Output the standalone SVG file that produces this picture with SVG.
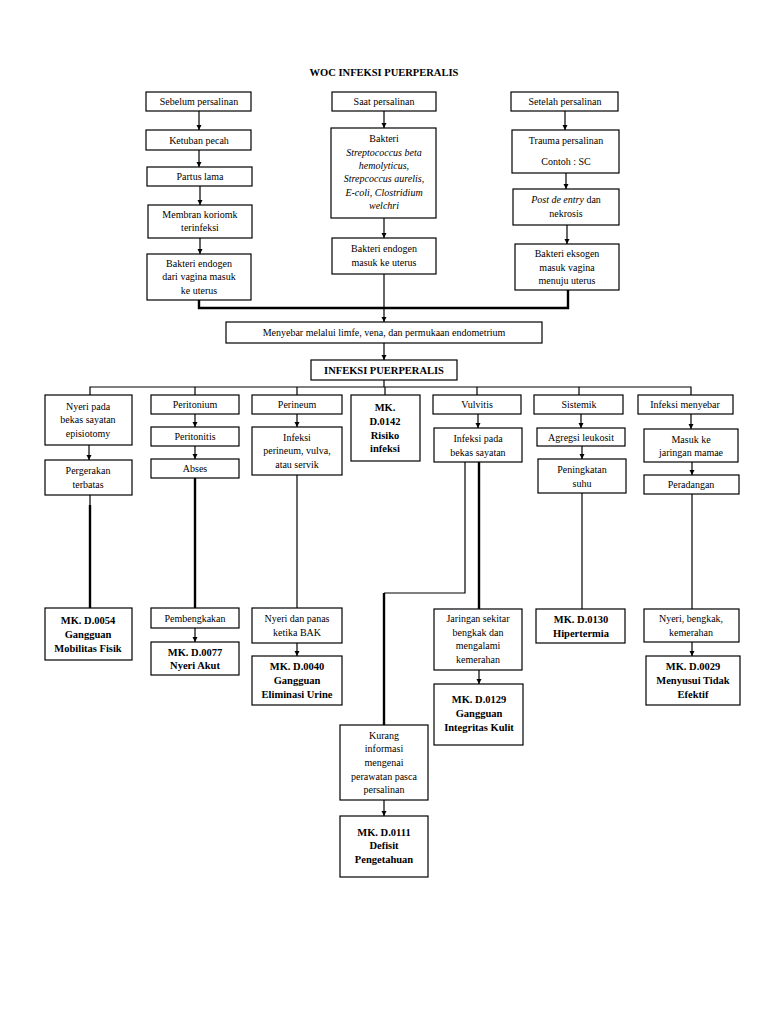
<svg xmlns="http://www.w3.org/2000/svg" width="768" height="1024" viewBox="0 0 768 1024">
<style>
rect{fill:#fff;stroke:#000;stroke-width:1.2}
text{font-family:"Liberation Serif",serif;font-size:10px;text-anchor:middle;fill:#000}
.b{font-weight:bold;font-size:10.5px}
.i{font-style:italic}
.c line,.c path{stroke:#000;stroke-width:1.2;fill:none}
.c .t{stroke-width:2.4}
.c .a{marker-end:url(#ar)}
</style>
<defs><marker id="ar" markerWidth="6" markerHeight="6" refX="5" refY="3" orient="auto" markerUnits="userSpaceOnUse"><path d="M0,0.5 L5,3 L0,5.5z" fill="#000"/></marker></defs>
<text x="384" y="76" class="b">WOC INFEKSI PUERPERALIS</text>
<g class="c">
<line class="a" x1="199" y1="111" x2="199" y2="130"/>
<line class="a" x1="199" y1="150" x2="199" y2="167"/>
<line class="a" x1="200" y1="186" x2="200" y2="205"/>
<line class="a" x1="200" y1="238" x2="200" y2="254"/>
<line class="a" x1="384" y1="111" x2="384" y2="128"/>
<line class="a" x1="384" y1="218" x2="384" y2="238"/>
<line class="a" x1="565" y1="111" x2="565" y2="130"/>
<line class="a" x1="566" y1="173" x2="566" y2="189"/>
<line class="a" x1="567" y1="225" x2="567" y2="244"/>
<path class="t" d="M199,300 V308 H568 V290"/>
<line class="a" x1="384" y1="274" x2="384" y2="322"/>
<line class="a" x1="384" y1="343" x2="384" y2="360"/>
<path d="M384,380 V387"/>
<path d="M90,395 V387 H691 V395"/>
<line x1="195" y1="387" x2="195" y2="395"/>
<line x1="297" y1="387" x2="297" y2="395"/>
<line x1="385" y1="387" x2="385" y2="395"/>
<line x1="477" y1="387" x2="477" y2="395"/>
<line x1="579" y1="387" x2="579" y2="395"/>
<line class="a" x1="89" y1="445" x2="89" y2="460"/>
<line class="t" x1="90" y1="505" x2="90" y2="608"/>
<line x1="90" y1="495" x2="90" y2="505"/>
<line class="a" x1="195" y1="414" x2="195" y2="427"/>
<line class="a" x1="195" y1="446" x2="195" y2="459"/>
<line class="t" x1="195" y1="478" x2="195" y2="608"/>
<line class="a" x1="195" y1="628" x2="195" y2="642"/>
<line class="a" x1="297" y1="414" x2="297" y2="427"/>
<line x1="297" y1="475" x2="297" y2="608"/>
<line class="a" x1="297" y1="643" x2="297" y2="656"/>
<line class="a" x1="478" y1="414" x2="478" y2="428"/>
<path d="M465,462 V593 H384"/>
<line class="t" x1="384" y1="593" x2="384" y2="725"/>
<line class="a" x1="384" y1="800" x2="384" y2="816"/>
<line class="t" x1="479" y1="462" x2="479" y2="609"/>
<line class="a" x1="479" y1="670" x2="479" y2="684"/>
<line class="a" x1="581" y1="414" x2="581" y2="428"/>
<line class="a" x1="582" y1="446" x2="582" y2="459"/>
<line x1="582" y1="493" x2="582" y2="609"/>
<line class="a" x1="691" y1="414" x2="691" y2="429"/>
<line class="a" x1="692" y1="462" x2="692" y2="475"/>
<line x1="692" y1="494" x2="692" y2="609"/>
<line class="a" x1="692" y1="642" x2="692" y2="656"/>
</g>
<g id="sebelum"><rect x="146" y="92" width="105" height="19"/><text x="199" y="105">Sebelum persalinan</text></g>
<g id="ketuban"><rect x="146" y="130" width="105" height="20"/><text x="199" y="144">Ketuban pecah</text></g>
<g id="partus"><rect x="147" y="167" width="105" height="19"/><text x="200" y="180">Partus lama</text></g>
<g id="membran"><rect x="148" y="205" width="104" height="33"/><text x="200" y="218">Membran koriomk</text><text x="200" y="231">terinfeksi</text></g>
<g id="endogen1"><rect x="147" y="254" width="104" height="46"/><text x="199" y="267">Bakteri endogen</text><text x="199" y="280">dari vagina masuk</text><text x="199" y="294">ke uterus</text></g>
<g id="saat"><rect x="332" y="92" width="104" height="19"/><text x="384" y="105">Saat persalinan</text></g>
<g id="bakteri"><rect x="331" y="128" width="105" height="90"/><text x="384" y="142">Bakteri</text><text x="384" y="156" class="i">Streptococcus beta</text><text x="384" y="169" class="i">hemolyticus,</text><text x="384" y="182" class="i">Strepcoccus aurelis,</text><text x="384" y="196" class="i">E-coli, Clostridium</text><text x="384" y="209" class="i">welchri</text></g>
<g id="endogen2"><rect x="332" y="238" width="104" height="36"/><text x="384" y="252">Bakteri endogen</text><text x="384" y="266">masuk ke uterus</text></g>
<g id="setelah"><rect x="511" y="92" width="107" height="19"/><text x="565" y="105">Setelah persalinan</text></g>
<g id="trauma"><rect x="512" y="130" width="107" height="43"/><text x="566" y="144">Trauma persalinan</text><text x="566" y="165">Contoh : SC</text></g>
<g id="post"><rect x="513" y="189" width="106" height="36"/><text x="566" y="203"><tspan class="i">Post de entry</tspan> dan</text><text x="566" y="217">nekrosis</text></g>
<g id="eksogen"><rect x="515" y="244" width="104" height="46"/><text x="567" y="257">Bakteri eksogen</text><text x="567" y="271">masuk vagina</text><text x="567" y="284">menuju uterus</text></g>
<g id="menyebar"><rect x="226" y="322" width="316" height="21"/><text x="384" y="336">Menyebar melalui limfe, vena, dan permukaan endometrium</text></g>
<g id="infeksi"><rect x="311" y="360" width="146" height="20"/><text x="384" y="374" class="b">INFEKSI PUERPERALIS</text></g>
<g id="nyeri1"><rect x="45" y="395" width="87" height="50"/><text x="88" y="410">Nyeri pada</text><text x="88" y="423">bekas sayatan</text><text x="88" y="437">episiotomy</text></g>
<g id="pergerakan"><rect x="45" y="460" width="87" height="35"/><text x="88" y="474">Pergerakan</text><text x="88" y="488">terbatas</text></g>
<g id="d0054"><rect x="45" y="608" width="87" height="52"/><text x="88" y="624" class="b">MK. D.0054</text><text x="88" y="638" class="b">Gangguan</text><text x="88" y="652" class="b">Mobilitas Fisik</text></g>
<g id="peritonium"><rect x="151" y="395" width="88" height="19"/><text x="195" y="408">Peritonium</text></g>
<g id="peritonitis"><rect x="151" y="427" width="88" height="19"/><text x="195" y="440">Peritonitis</text></g>
<g id="abses"><rect x="151" y="459" width="88" height="19"/><text x="195" y="472">Abses</text></g>
<g id="pembengkakan"><rect x="151" y="608" width="88" height="20"/><text x="195" y="622">Pembengkakan</text></g>
<g id="d0077"><rect x="151" y="642" width="88" height="33"/><text x="195" y="656" class="b">MK. D.0077</text><text x="195" y="669" class="b">Nyeri Akut</text></g>
<g id="perineum"><rect x="252" y="395" width="90" height="19"/><text x="297" y="408">Perineum</text></g>
<g id="infperineum"><rect x="252" y="427" width="90" height="48"/><text x="297" y="441">Infeksi</text><text x="297" y="454">perineum, vulva,</text><text x="297" y="468">atau servik</text></g>
<g id="nyeripanas"><rect x="252" y="608" width="90" height="35"/><text x="297" y="622">Nyeri dan panas</text><text x="297" y="636">ketika BAK</text></g>
<g id="d0040"><rect x="252" y="656" width="90" height="49"/><text x="297" y="670" class="b">MK. D.0040</text><text x="297" y="684" class="b">Gangguan</text><text x="297" y="698" class="b">Eliminasi Urine</text></g>
<g id="d0142"><rect x="351" y="395" width="69" height="66"/><text x="385" y="411" class="b">MK.</text><text x="385" y="425" class="b">D.0142</text><text x="385" y="439" class="b">Risiko</text><text x="385" y="452" class="b">infeksi</text></g>
<g id="vulvitis"><rect x="433" y="395" width="88" height="19"/><text x="477" y="408">Vulvitis</text></g>
<g id="infpada"><rect x="434" y="428" width="88" height="34"/><text x="478" y="442">Infeksi pada</text><text x="478" y="456">bekas sayatan</text></g>
<g id="jaringan"><rect x="434" y="609" width="88" height="61"/><text x="478" y="622">Jaringan sekitar</text><text x="478" y="636">bengkak dan</text><text x="478" y="649">mengalami</text><text x="478" y="663">kemerahan</text></g>
<g id="d0129"><rect x="434" y="684" width="89" height="61"/><text x="479" y="703" class="b">MK. D.0129</text><text x="479" y="717" class="b">Gangguan</text><text x="479" y="731" class="b">Integritas Kulit</text></g>
<g id="kurang"><rect x="340" y="725" width="88" height="75"/><text x="384" y="739">Kurang</text><text x="384" y="752">informasi</text><text x="384" y="766">mengenai</text><text x="384" y="780">perawatan pasca</text><text x="384" y="793">persalinan</text></g>
<g id="d0111"><rect x="340" y="816" width="88" height="61"/><text x="384" y="836" class="b">MK. D.0111</text><text x="384" y="849" class="b">Defisit</text><text x="384" y="863" class="b">Pengetahuan</text></g>
<g id="sistemik"><rect x="534" y="395" width="89" height="19"/><text x="579" y="408">Sistemik</text></g>
<g id="agregsi"><rect x="537" y="428" width="88" height="18"/><text x="581" y="441">Agregsi leukosit</text></g>
<g id="peningkatan"><rect x="538" y="459" width="88" height="34"/><text x="582" y="473">Peningkatan</text><text x="582" y="487">suhu</text></g>
<g id="d0130"><rect x="536" y="609" width="89" height="34"/><text x="581" y="623" class="b">MK. D.0130</text><text x="581" y="637" class="b">Hipertermia</text></g>
<g id="infmenyebar"><rect x="638" y="395" width="95" height="19"/><text x="685" y="408">Infeksi menyebar</text></g>
<g id="masuk"><rect x="644" y="429" width="94" height="33"/><text x="691" y="443">Masuk ke</text><text x="691" y="456">jaringan mamae</text></g>
<g id="peradangan"><rect x="644" y="475" width="95" height="19"/><text x="691" y="488">Peradangan</text></g>
<g id="nyeribengkak"><rect x="644" y="609" width="95" height="33"/><text x="691" y="622">Nyeri, bengkak,</text><text x="691" y="636">kemerahan</text></g>
<g id="d0029"><rect x="646" y="656" width="94" height="49"/><text x="693" y="670" class="b">MK. D.0029</text><text x="693" y="684" class="b">Menyusui Tidak</text><text x="693" y="698" class="b">Efektif</text></g>
</svg>
